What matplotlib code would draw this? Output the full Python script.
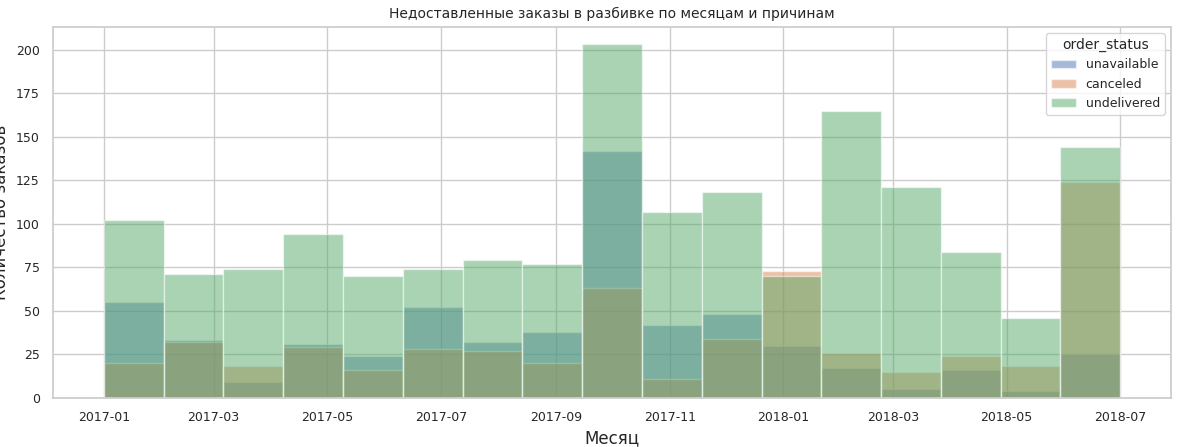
import numpy as np, pandas as pd, matplotlib
matplotlib.use("Agg")
import matplotlib.pyplot as plt, seaborn as sns

unavailable = [55,33,9,31,24,52,32,38,142,42,48,30,17,5,16,4,25]
canceled    = [20,32,18,29,16,28,27,20,63,11,34,73,26,15,24,18,124]
undelivered = [102,71,74,94,70,74,79,77,203,107,118,70,165,121,84,46,144]

sns.set_theme(style="whitegrid")
start = pd.Timestamp("2017-01-01"); end = pd.Timestamp("2018-07-01")
nb = len(unavailable)
edges = matplotlib.dates.date2num(pd.date_range(start, end, periods=nb+1))
centers = (edges[:-1] + edges[1:]) / 2
pal = sns.color_palette("deep")

fig, ax = plt.subplots(figsize=(11.77, 4.47), dpi=100)
for i, (name, vals) in enumerate([("unavailable", unavailable), ("canceled", canceled), ("undelivered", undelivered)]):
    ax.hist(centers, bins=edges, weights=vals, color=pal[i], alpha=0.5,
            edgecolor="white", linewidth=1, label=name)
ax.xaxis.set_major_locator(matplotlib.dates.MonthLocator(bymonth=[1,3,5,7,9,11]))
ax.xaxis.set_major_formatter(matplotlib.dates.DateFormatter("%Y-%m"))
ax.tick_params(labelsize=9)
ax.set_title("Недоставленные заказы в разбивке по месяцам и причинам", fontsize=10)
ax.set_xlabel("Месяц"); ax.set_ylabel("Количество заказов")
leg = ax.legend(title="order_status", fontsize=9, title_fontsize=10, loc="upper right")
fig.subplots_adjust(left=0.045, right=0.995, top=0.94, bottom=0.11)
fig.savefig("out.png")
